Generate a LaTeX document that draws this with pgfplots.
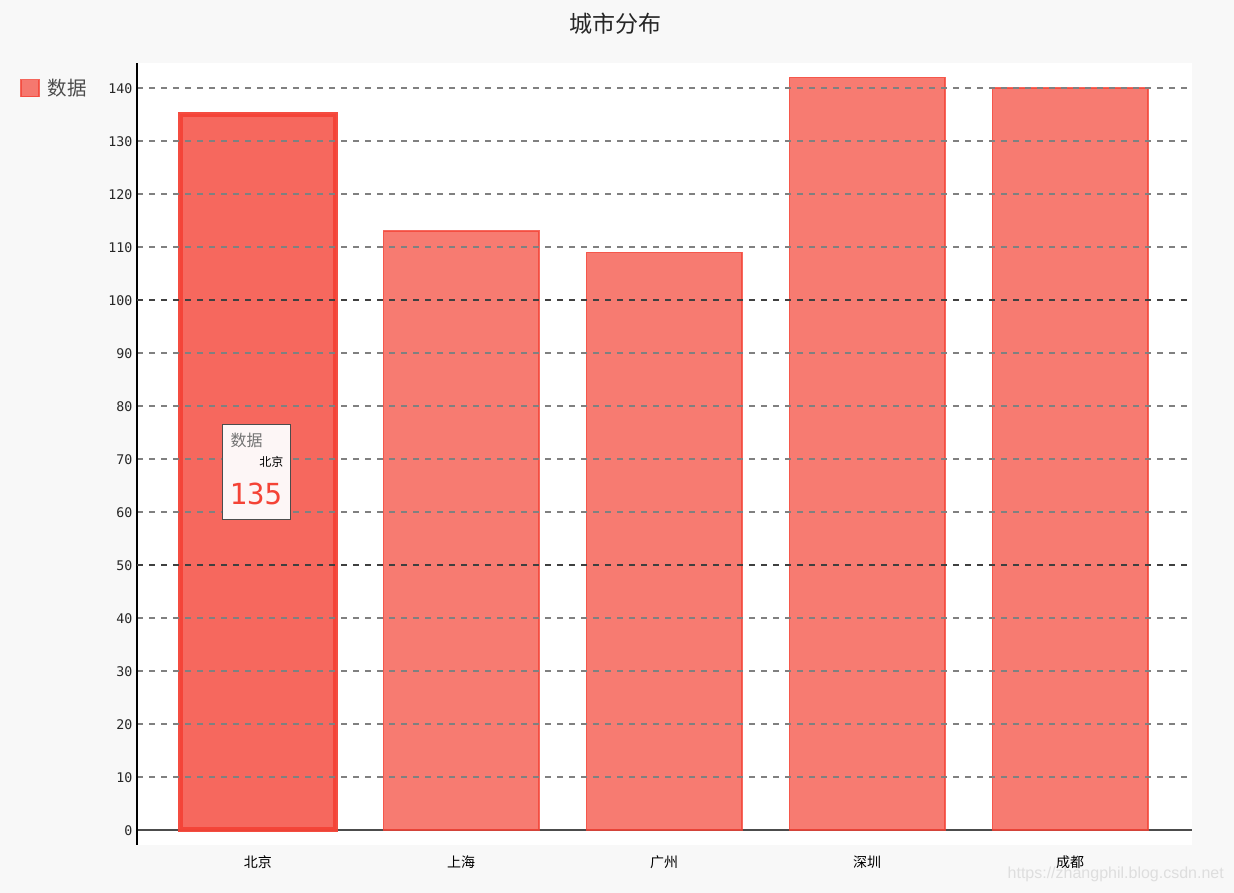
\documentclass[border=0pt]{standalone}
\usepackage{fontspec}
\setmainfont{DejaVu Sans}
\newfontfamily\cjk{Noto Sans CJK SC}
\newfontfamily\mono{DejaVu Sans Mono}
\newfontfamily\wm{Liberation Sans}
\usepackage{pgfplots}
\pgfplotsset{compat=1.18}
\definecolor{bg}{HTML}{F8F8F8}
\definecolor{barred}{HTML}{F44336}
\definecolor{tipbg}{HTML}{FDF6F6}
\begin{document}
\begin{tikzpicture}[x=1bp,y=1bp]
\fill[bg] (0,0) rectangle (1234,893);
\node[font=\cjk\fontsize{23bp}{26bp}\selectfont, text=black!85] at (615,869) {城市分布};
\begin{axis}[at={(137bp,48bp)}, anchor=south west, scale only axis,
  width=1055bp, height=782bp,
  xmin=-0.596, xmax=4.601, ymin=-2.83, ymax=144.72,
  /pgf/number format/assume math mode=true,
  axis background/.style={fill=white},
  axis x line=bottom, axis y line=left,
  x axis line style={draw=none},
  y axis line style={-, black, line width=1.5bp},
  xtick={0,1,2,3,4}, xticklabels={北京,上海,广州,深圳,成都},
  xticklabel style={font=\cjk\fontsize{14bp}{16bp}\selectfont, text=black, yshift=-7bp},
  ytick={0,10,...,140},
  yticklabel style={font=\mono\fontsize{13.3bp}{15bp}\selectfont, text=black!85, xshift=-1bp, yshift=-1bp},
  major tick length=0, minor tick length=0,
  ymajorgrids=false,
  minor ytick={10,20,30,40,60,70,80,90,110,120,130,140},
  yminorgrids=true,
  minor grid style={dash pattern=on 6bp off 6bp, black!50, line width=1.2bp},
  extra y ticks={50,100}, extra y tick labels={},
  extra y tick style={ymajorgrids=true, major grid style={dash pattern=on 6bp off 6bp, black!75, line width=1.3bp}},
  axis on top,
  ybar, bar shift=0pt,
  legend style={at={(axis description cs:-0.1137,0.968)}, anchor=west, draw=none, fill=none,
    font=\cjk\fontsize{19.5bp}{22bp}\selectfont, text=black!70},
  legend image code/.code={\draw[fill=barred, fill opacity=0.7, draw=barred, line width=1.5bp] (-2bp,-8.5bp) rectangle (16bp,8.5bp);},
]
\draw[black!70, line width=2bp] (axis cs:-0.596,0) -- (axis cs:4.601,0);
\addplot[bar width=0.766, fill=barred, fill opacity=0.7, draw=barred, draw opacity=0.8, line width=1.5bp]
  coordinates {(1,113) (2,109) (3,142) (4,140)};
\addlegendentry{\hspace{6bp}数据}
\addplot[forget plot, bar width=0.764, fill=barred, fill opacity=0.8, draw=barred, draw opacity=0.95, line width=5bp]
  coordinates {(0,135)};
\coordinate (tipc) at (axis cs:-0.005,67.5);
\end{axis}
\node[draw=black!70, fill=tipbg, line width=1bp, minimum width=68bp, minimum height=95bp, inner sep=0pt] (tip) at (tipc) {};
\node[anchor=west, inner sep=0pt, text=black!55, font=\cjk\fontsize{16bp}{18bp}\selectfont] at ([xshift=8bp,yshift=-16bp]tip.north west) {数据};
\node[anchor=east, inner sep=0pt, text=black, font=\cjk\fontsize{12bp}{14bp}\selectfont] at ([xshift=-8bp,yshift=-38bp]tip.north east) {北京};
\node[anchor=west, inner sep=0pt, text=barred, font=\mono\fontsize{29bp}{32bp}\selectfont] at ([xshift=7bp,yshift=-70bp]tip.north west) {135};
\node[anchor=east, inner sep=0pt, text=black!13, font=\wm\fontsize{16bp}{18bp}\selectfont] at (1224,19) {https://zhangphil.blog.csdn.net};
\end{tikzpicture}
\end{document}
